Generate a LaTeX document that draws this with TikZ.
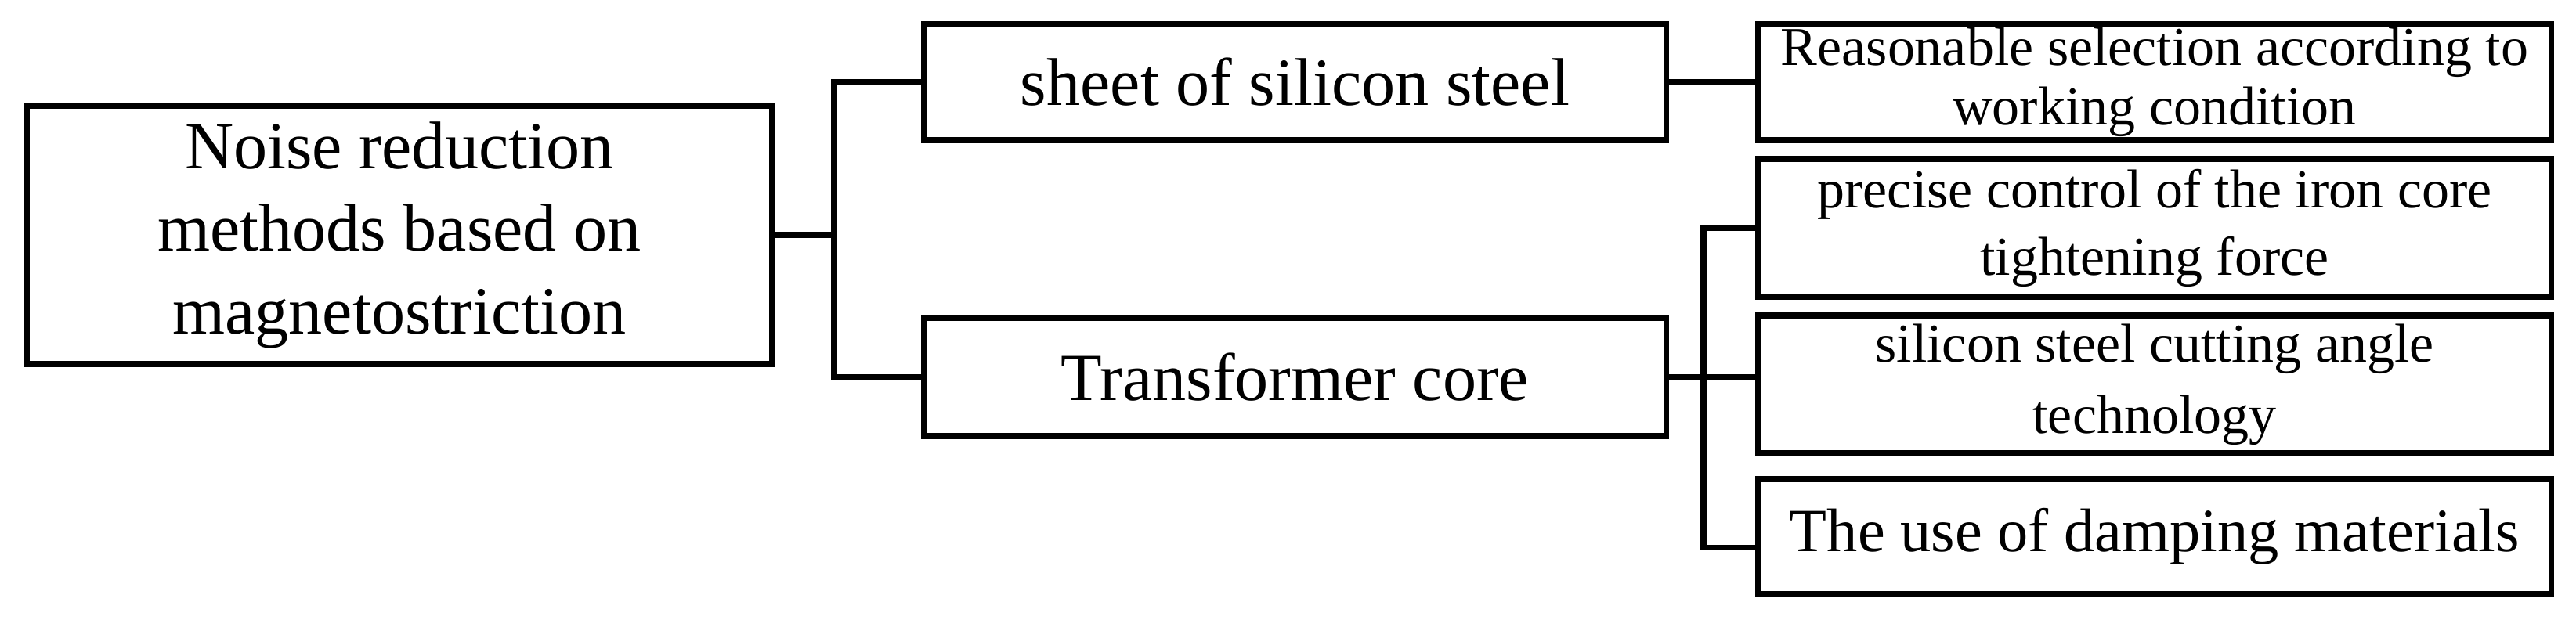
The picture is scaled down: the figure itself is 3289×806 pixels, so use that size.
\documentclass[tikz,border=0pt]{standalone}
\usepackage{fontspec}
\setmainfont{Liberation Serif}
\begin{document}
\begin{tikzpicture}[x=0.01cm,y=-0.01cm,
  box/.style={draw=black,line width=2.1pt,rectangle,inner sep=0pt,align=center,anchor=center},
  big/.style={font=\fontsize{24.5}{30}\selectfont},
  small/.style={font=\fontsize{19.9}{24.5}\selectfont},
  mid/.style={font=\fontsize{22.3}{27}\selectfont},
  conn/.style={draw=black,line width=2.1pt}]
\useasboundingbox (0,0) rectangle (3289,806);
\node[box,big,minimum width=9.5cm,minimum height=3.3cm] (root) at (510,300) {Noise reduction\\methods based on\\magnetostriction};
\node[box,big,minimum width=9.47cm,minimum height=1.48cm] (sheet) at (1653.5,105) {sheet of silicon steel};
\node[box,big,minimum width=9.47cm,minimum height=1.51cm] (trans) at (1653.5,481.5) {Transformer core};
\node[box,font=\fontsize{19.9}{21.5}\selectfont,minimum width=10.12cm,minimum height=1.48cm] (reas) at (2751,105) {Reasonable selection according to\\working condition};
\node[box,small,minimum width=10.12cm,minimum height=1.76cm] (prec) at (2751,291) {precise control of the iron core\\tightening force};
\node[box,font=\fontsize{19.9}{26}\selectfont,minimum width=10.12cm,minimum height=1.76cm] (sili) at (2751,491) {silicon steel cutting angle\\technology};
\node[box,mid,minimum width=10.12cm,minimum height=1.47cm] (damp) at (2751,685.5) {The use of damping materials};
\coordinate (j1) at (1065,300);
\coordinate (j2) at (2175,480);
\path[conn] (root.east) -- (j1);
\path[conn] (sheet.west) -| (j1) |- (trans.west);
\path[conn] (sheet.east) -- (reas.west);
\path[conn] (trans.east) -- (trans.east -| sili.west);
\path[conn] (prec.west) -| (j2) |- ([yshift=-0.14cm]damp.west);
\end{tikzpicture}
\end{document}
